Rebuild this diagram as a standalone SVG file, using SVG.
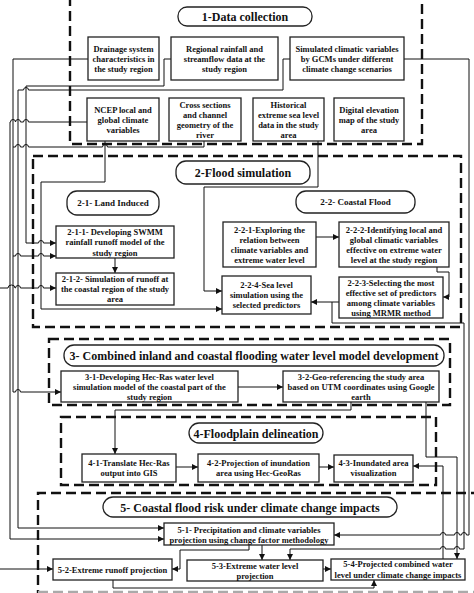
<svg xmlns="http://www.w3.org/2000/svg" width="474" height="593" viewBox="0 0 474 593">
<style>
.bg{fill:#fff}
.dash{fill:none;stroke:#111;stroke-width:2.4;stroke-dasharray:10 5}
.dashg{fill:none;stroke:#aaa;stroke-width:2.4;stroke-dasharray:10 5}
.box{fill:#fff;stroke:#222;stroke-width:1.3}
.rbox{fill:#fff;stroke:#222;stroke-width:1.3}
.t{font-family:"Liberation Serif","Times New Roman",serif;font-weight:bold;font-size:8.5px;text-anchor:middle;fill:#111}
.h{font-family:"Liberation Serif","Times New Roman",serif;font-weight:bold;font-size:12px;text-anchor:middle;fill:#111}
.s{font-family:"Liberation Serif","Times New Roman",serif;font-weight:bold;font-size:9px;text-anchor:middle;fill:#111}
.c{fill:none;stroke:#111;stroke-width:1}
.ca{fill:none;stroke:#111;stroke-width:1;marker-end:url(#arr)}
</style>
<defs>
<marker id="arr" viewBox="0 0 10 10" refX="10" refY="5" markerWidth="7" markerHeight="6" markerUnits="userSpaceOnUse" orient="auto">
<path d="M0,0 L10,5 L0,10 z" fill="#111"/>
</marker>
</defs>
<rect class="bg" x="0" y="0" width="474" height="593"/>

<g id="containers">
<rect class="dash" x="70" y="-4" width="352" height="148"/>
<rect class="dash" x="33" y="156" width="428" height="171"/>
<rect class="dash" x="49" y="339" width="401" height="66"/>
<rect class="dash" x="61" y="417" width="375" height="68"/>
<path class="dash" d="M38,600 V493 H480"/>
<path class="dashg" d="M38,592 H480"/>
</g>

<g id="connectors">
<path class="ca" d="M88,59 H13 V392 H15.5 a2.5,2.5 0 0 1 5,0 H61"/>
<path class="ca" d="M13,256 H15.5 a2.5,2.5 0 0 1 5,0 H38.5 a2.5,2.5 0 0 1 5,0 H56"/>
<path class="c" d="M204,141 V147 H107.5 a2.5,2.5 0 0 0 -5,0 H28.5 a2.5,2.5 0 0 0 -5,0 H20.5 a2.5,2.5 0 0 0 -5,0 H13"/>
<path class="ca" d="M171,59 H164 V86 H26 V243 H38.5 a2.5,2.5 0 0 1 5,0 H56"/>
<path class="ca" d="M290,59 H283 V90 H28.5 a2.5,2.5 0 0 0 -5,0 H18 V528 H164"/>
<path class="ca" d="M404,59 H469 V535 H466.5 a2.5,2.5 0 0 0 -5,0 H459.5 a2.5,2.5 0 0 0 -5,0 H445.5 a2.5,2.5 0 0 0 -5,0 H334"/>
<path class="ca" d="M87,122 H28.5 a2.5,2.5 0 0 0 -5,0 H20.5 a2.5,2.5 0 0 0 -5,0 H15.5 a2.5,2.5 0 0 0 -5,0 H10 V539 H164"/>
<path class="ca" d="M105,141 V182 H41 V309 H222"/>
<path class="ca" d="M318,141 V187 H204 V291 H222"/>
<path class="ca" d="M0,288 H8 a3.5,3 0 0 1 7,0 H15.5 a2.5,2.5 0 0 1 5,0 H38.5 a2.5,2.5 0 0 1 5,0 H56"/>
<path class="ca" d="M115,258 V273"/>
<path class="ca" d="M316,237 H339"/>
<path class="ca" d="M437,267 V272 H449 V297 H443"/>
<path class="ca" d="M339,302 H311"/>
<path class="ca" d="M332,302 V323 H464 V549 H459.5 a2.5,2.5 0 0 0 -5,0 H445.5 a2.5,2.5 0 0 0 -5,0 H290 V560"/>
<path class="ca" d="M238,387 H283"/>
<path class="ca" d="M351,402 V410 H115 V454"/>
<path class="ca" d="M426,402 V457 H457 V559"/>
<path class="ca" d="M443,559 V466 H413"/>
<path class="ca" d="M176,467 H198"/>
<path class="ca" d="M319,467 H334"/>
<path class="ca" d="M249,545 V550 H180 V569 H172"/>
<path class="ca" d="M262,545 V560"/>
<path class="ca" d="M323,569 H331"/>
<path class="ca" d="M113,580 V588 H374 V580"/>
<path class="ca" d="M0,569 H53"/>
</g>

<g id="title1">
<rect class="rbox" x="178" y="7" width="134" height="19" rx="9"/>
<text class="h" x="245" y="21">1-Data collection</text>
</g>
<g id="drainage">
<rect class="box" x="88" y="37" width="71" height="43"/>
<text class="t" x="123.5" y="51.5">Drainage system</text>
<text class="t" x="123.5" y="61.5">characteristics in</text>
<text class="t" x="123.5" y="71.5">the study region</text>
</g>
<g id="regional">
<rect class="box" x="171" y="37" width="107" height="43"/>
<text class="t" x="224.5" y="51.5">Regional rainfall and</text>
<text class="t" x="224.5" y="61.5">streamflow data at the</text>
<text class="t" x="224.5" y="71.5">study region</text>
</g>
<g id="simulated">
<rect class="box" x="290" y="37" width="114" height="43"/>
<text class="t" x="347" y="51.5">Simulated climatic variables</text>
<text class="t" x="347" y="61.5">by GCMs under different</text>
<text class="t" x="347" y="71.5">climate change scenarios</text>
</g>
<g id="ncep">
<rect class="box" x="87" y="98" width="72" height="43"/>
<text class="t" x="123" y="112.5">NCEP local and</text>
<text class="t" x="123" y="122.5">global climate</text>
<text class="t" x="123" y="132.5">variables</text>
</g>
<g id="cross">
<rect class="box" x="169" y="98" width="72" height="43"/>
<text class="t" x="205" y="107.5">Cross sections</text>
<text class="t" x="205" y="117.5">and channel</text>
<text class="t" x="205" y="127.5">geometry of the</text>
<text class="t" x="205" y="137.5">river</text>
</g>
<g id="historical">
<rect class="box" x="253" y="98" width="71" height="43"/>
<text class="t" x="288.5" y="107.5">Historical</text>
<text class="t" x="288.5" y="117.5">extreme sea level</text>
<text class="t" x="288.5" y="127.5">data in the study</text>
<text class="t" x="288.5" y="137.5">area</text>
</g>
<g id="digital">
<rect class="box" x="334" y="98" width="70" height="43"/>
<text class="t" x="369" y="112.5">Digital elevation</text>
<text class="t" x="369" y="122.5">map of the study</text>
<text class="t" x="369" y="132.5">area</text>
</g>

<g id="title2">
<rect class="rbox" x="176" y="161" width="134" height="23" rx="10"/>
<text class="h" x="243" y="176.5">2-Flood simulation</text>
</g>
<g id="land">
<rect class="rbox" x="67" y="191" width="92" height="24" rx="10"/>
<text class="s" x="113" y="206">2-1- Land Induced</text>
</g>
<g id="coastal">
<rect class="rbox" x="296" y="191" width="119" height="22" rx="10"/>
<text class="s" x="355.5" y="205">2-2- Coastal Flood</text>
</g>
<g id="n211">
<rect class="box" x="56" y="226" width="118" height="32"/>
<text class="t" x="115" y="234.5">2-1-1- Developing SWMM</text>
<text class="t" x="115" y="245">rainfall runoff model of the</text>
<text class="t" x="115" y="255.5">study region</text>
</g>
<g id="n212">
<rect class="box" x="56" y="273" width="118" height="32"/>
<text class="t" x="115" y="282">2-1-2- Simulation of runoff at</text>
<text class="t" x="115" y="292">the coastal region of the study</text>
<text class="t" x="115" y="302">area</text>
</g>
<g id="n221">
<rect class="box" x="223" y="222" width="93" height="45"/>
<text class="t" x="269.5" y="232.5">2-2-1-Exploring the</text>
<text class="t" x="269.5" y="242.5">relation between</text>
<text class="t" x="269.5" y="252.5">climate variables and</text>
<text class="t" x="269.5" y="262.5">extreme water level</text>
</g>
<g id="n222">
<rect class="box" x="339" y="222" width="110" height="45"/>
<text class="t" x="394" y="232.5">2-2-2-Identifying local and</text>
<text class="t" x="394" y="242.5">global climatic variables</text>
<text class="t" x="394" y="252.5">effective on extreme water</text>
<text class="t" x="394" y="262.5">level at the study region</text>
</g>
<g id="n223">
<rect class="box" x="339" y="277" width="104" height="41"/>
<text class="t" x="391" y="286">2-2-3-Selecting the most</text>
<text class="t" x="391" y="296">effective set of predictors</text>
<text class="t" x="391" y="306">among climate variables</text>
<text class="t" x="391" y="316">using MRMR method</text>
</g>
<g id="n224">
<rect class="box" x="222" y="276" width="89" height="38"/>
<text class="t" x="266.5" y="288">2-2-4-Sea level</text>
<text class="t" x="266.5" y="298">simulation using the</text>
<text class="t" x="266.5" y="308">selected predictors</text>
</g>

<g id="title3">
<rect class="rbox" x="64" y="345" width="380" height="21" rx="10"/>
<text class="h" x="254" y="359.5">3- Combined inland and coastal flooding water level model development</text>
</g>
<g id="n31">
<rect class="box" x="61" y="371" width="177" height="31"/>
<text class="t" x="149.5" y="379.5">3-1-Developing Hec-Ras water level</text>
<text class="t" x="149.5" y="389.5">simulation model of the coastal part of the</text>
<text class="t" x="149.5" y="399.5">study region</text>
</g>
<g id="n32">
<rect class="box" x="283" y="371" width="156" height="31"/>
<text class="t" x="361" y="379.5">3-2-Geo-referencing the study area</text>
<text class="t" x="361" y="389.5">based on UTM coordinates using Google</text>
<text class="t" x="361" y="399.5">earth</text>
</g>

<g id="title4">
<rect class="rbox" x="189" y="423" width="134" height="20" rx="10"/>
<text class="h" x="256" y="437.5">4-Floodplain delineation</text>
</g>
<g id="n41">
<rect class="box" x="82" y="454" width="94" height="28"/>
<text class="t" x="129" y="465.5">4-1-Translate Hec-Ras</text>
<text class="t" x="129" y="476">output into GIS</text>
</g>
<g id="n42">
<rect class="box" x="198" y="454" width="121" height="28"/>
<text class="t" x="258.5" y="465.5">4-2-Projection of inundation</text>
<text class="t" x="258.5" y="476">area using Hec-GeoRas</text>
</g>
<g id="n43">
<rect class="box" x="334" y="455" width="79" height="27"/>
<text class="t" x="373.5" y="465.5">4-3-Inundated area</text>
<text class="t" x="373.5" y="476">visualization</text>
</g>

<g id="title5">
<rect class="rbox" x="103" y="497" width="294" height="20" rx="10"/>
<text class="h" x="250" y="511.5">5- Coastal flood risk under climate change impacts</text>
</g>
<g id="n51">
<rect class="box" x="164" y="523" width="170" height="22"/>
<text class="t" x="249" y="533">5-1- Precipitation and climate variables</text>
<text class="t" x="249" y="542.5">projection using change factor methodology</text>
</g>
<g id="n52">
<rect class="box" x="53" y="559" width="119" height="21"/>
<text class="t" x="112.5" y="573">5-2-Extreme runoff projection</text>
</g>
<g id="n53">
<rect class="box" x="187" y="560" width="136" height="21"/>
<text class="t" x="255" y="568.5">5-3-Extreme water level</text>
<text class="t" x="255" y="578.5">projection</text>
</g>
<g id="n54">
<rect class="box" x="331" y="559" width="134" height="21"/>
<text class="t" x="398" y="567">5-4-Projected combined water</text>
<text class="t" x="398" y="578">level under climate change impacts</text>
</g>
</svg>
